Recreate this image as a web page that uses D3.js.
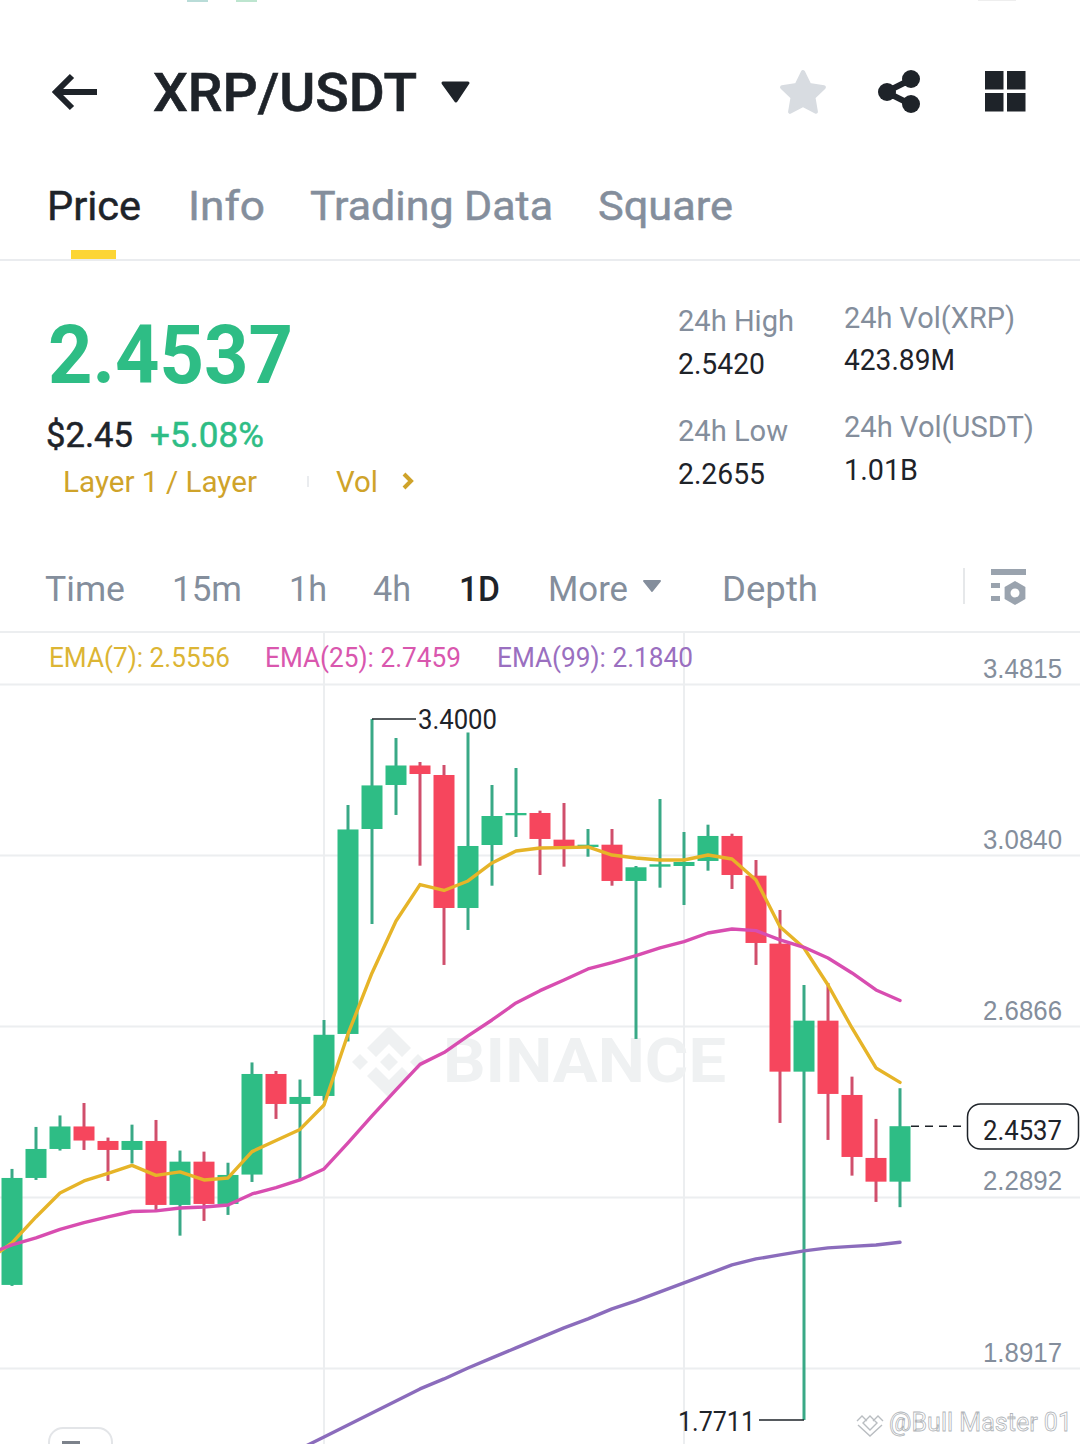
<!DOCTYPE html>
<html>
<head>
<meta charset="utf-8">
<title>XRP/USDT</title>
<script src="https://d3js.org/d3.v7.min.js"></script>
<style>
  html, body { margin: 0; padding: 0; background: #fff; overflow: hidden; }
  svg { display: block; font-family: Roboto, "Noto Sans", sans-serif; }
  .grid line { stroke: #eceef0; stroke-width: 2px; }
  .grid text { fill: #848e9c; font-size: 27px; text-anchor: end; }
</style>
</head>
<body>
<svg id="chart" width="1080" height="1444"></svg>
<script>
// daily candles
const opens = [2.0848,2.3334,2.4008,2.4531,2.4194,2.3985,2.4194,2.2707,2.3713,2.2730,2.3413,2.5751,2.5054,2.5240,2.6681,3.1445,3.2468,3.2921,3.2700,2.9609,3.1073,3.1764,3.1817,3.1197,3.1027,3.1080,3.0237,3.0569,3.0585,3.0702,3.1283,3.0360,2.8780,2.5805,2.6990,2.5263,2.3799,2.3248];
const highs = [2.3544,2.4520,2.4787,2.5077,2.4273,2.4573,2.4682,2.3971,2.3946,2.3688,2.6019,2.5821,2.5621,2.7006,3.2003,3.4000,3.3560,3.3002,3.2933,3.3688,3.2468,3.2863,3.1871,3.2049,3.1445,3.1445,3.0585,3.2142,3.1375,3.1545,3.1336,3.0725,2.9563,2.7820,2.7866,2.5689,2.4706,2.5420];
const lows = [2.0825,2.3288,2.3971,2.3985,2.3265,2.3671,2.2568,2.1993,2.2335,2.2475,2.3241,2.4706,2.3288,2.5131,2.6507,2.9237,3.1771,3.0592,2.8285,2.9098,3.0127,3.1259,3.0376,3.0569,3.0801,3.0127,2.6565,3.0081,2.9679,3.0476,3.0051,2.8285,2.4613,1.7711,2.4218,2.3388,2.2777,2.2655];
const closes = [2.3334,2.4008,2.4531,2.4204,2.3985,2.4194,2.2707,2.3713,2.2730,2.3404,2.5751,2.5054,2.5217,2.6662,3.1434,3.2458,3.2921,3.2723,2.9609,3.1050,3.1747,3.1817,3.1213,3.1034,3.1080,3.0237,3.0555,3.0625,3.0678,3.1283,3.0376,2.8796,2.5805,2.6990,2.5287,2.3822,2.3248,2.4537];

// moving averages, these start one candle left of the screen (index -1)
const ema7 = [2.1429,2.1824,2.2428,2.2986,2.3265,2.3439,2.3627,2.3395,2.3474,2.3288,2.3334,2.3946,2.4204,2.4462,2.5031,2.6681,2.8099,2.9307,3.0153,3.0016,3.0237,3.0655,3.0934,3.1004,3.1011,3.1027,3.0840,3.0771,3.0725,3.0725,3.0840,3.0748,3.0260,2.9175,2.8680,2.7820,2.6820,2.5891,2.5556];
const ema25 = [2.1568,2.1777,2.1940,2.2140,2.2296,2.2428,2.2554,2.2568,2.2637,2.2660,2.2707,2.2963,2.3111,2.3288,2.3544,2.4148,2.4775,2.5380,2.5974,2.6249,2.6635,2.7006,2.7401,2.7687,2.7936,2.8192,2.8338,2.8501,2.8680,2.8826,2.9028,2.9121,2.9082,2.8866,2.8696,2.8447,2.8099,2.7704,2.7459];
// the long one only comes on screen near the bottom, starts at index 12
const ema99 = [1.7036,1.7315,1.7594,1.7873,1.8152,1.8431,1.8663,1.8917,1.9151,1.9384,1.9616,1.9848,2.0058,2.0290,2.0476,2.0685,2.0894,2.1103,2.1313,2.1452,2.1545,2.1638,2.1708,2.1743,2.1777,2.1840];

const priceTicks = [3.4815, 3.0840, 2.6866, 2.2892, 1.8917];
const gridCandles = [13, 28];
const tabs = ["Price", "Info", "Trading Data", "Square"];
const intervals = ["Time", "15m", "1h", "4h", "1D", "More", "Depth"];

const lastPrice = 2.4537, topPrice = 3.4000, bottomPrice = 1.7711;

const DARK = "#1e2329", GREY = "#848e9c", GREEN = "#2ebd85", RED = "#f6465d", GOLD = "#cfa32a";
const WICK_GREEN = "#39a986", WICK_RED = "#d04f6c";

const svg = d3.select("#chart");

// set scales
const x = d3.scaleLinear().domain([0, 37]).range([12, 900]);
const y = d3.scaleLinear().domain([3.4815, 1.8917]).range([684, 1368]);

// text with a fixed width so it lands where the app put it
function label(parent, str, px, py, size, fill, weight, width) {
  let t = parent.append("text")
    .attr("x", px).attr("y", py)
    .attr("font-size", size).attr("fill", fill)
    .attr("font-weight", weight || 400)
    .text(str);
  if (width) t.attr("textLength", width).attr("lengthAdjust", "spacingAndGlyphs");
  return t;
}

/* ---------- page header ---------- */
const head = svg.append("g");

// scraps of the status bar cut off at the top
head.append("rect").attr("x", 187).attr("y", 0).attr("width", 21).attr("height", 2).attr("fill", "#b9dcd8");
head.append("rect").attr("x", 236).attr("y", 0).attr("width", 21).attr("height", 2).attr("fill", "#bde5cf");
head.append("rect").attr("x", 978).attr("y", 0).attr("width", 38).attr("height", 1).attr("fill", "#eeeeee");

// back arrow
head.append("path").attr("d", "M97 92H57M72 76L56 92L72 108")
  .attr("fill", "none").attr("stroke", DARK).attr("stroke-width", 6);

label(head, "XRP/USDT", 153, 111, 54, DARK, 500, 264).attr("stroke", DARK).attr("stroke-width", 0.6);
head.append("path").attr("d", "M443 83H468L456 101Z")
  .attr("fill", DARK).attr("stroke", DARK).attr("stroke-width", 3).attr("stroke-linejoin", "round");

// star
const star = d3.lineRadial().curve(d3.curveLinearClosed)
  .angle((d, i) => i * Math.PI / 5)
  .radius((d, i) => i % 2 ? 11 : 22);
head.append("path").attr("transform", "translate(803,94)")
  .attr("d", star(d3.range(10)))
  .attr("fill", "#d8dce1").attr("stroke", "#d8dce1").attr("stroke-width", 4).attr("stroke-linejoin", "round");

// share
head.append("path").attr("d", "M912 79L886 92L912 105")
  .attr("fill", "none").attr("stroke", DARK).attr("stroke-width", 6);
[[911, 79], [887, 92], [911, 104]].forEach(c => {
  head.append("circle").attr("cx", c[0]).attr("cy", c[1]).attr("r", 9).attr("fill", DARK);
});

// grid icon
[[985, 71], [1007, 71], [985, 93], [1007, 93]].forEach(c => {
  head.append("rect").attr("x", c[0]).attr("y", c[1]).attr("width", 18.5).attr("height", 18.5).attr("fill", DARK);
});

// tabs
label(head, tabs[0], 47, 220, 41, DARK, 400, 94).attr("stroke", DARK).attr("stroke-width", 0.5);
label(head, tabs[1], 188, 220, 41, GREY, 400, 77).attr("stroke", GREY).attr("stroke-width", 0.5);
label(head, tabs[2], 310, 220, 41, GREY, 400, 243).attr("stroke", GREY).attr("stroke-width", 0.5);
label(head, tabs[3], 598, 220, 41, GREY, 400, 135).attr("stroke", GREY).attr("stroke-width", 0.5);
head.append("rect").attr("x", 71).attr("y", 250).attr("width", 45).attr("height", 9).attr("fill", "#fcd535");
head.append("rect").attr("x", 0).attr("y", 259).attr("width", 1080).attr("height", 2).attr("fill", "#eaecef");

// price block
label(head, "2.4537", 48, 383, 82, GREEN, 700, 245);
label(head, "$2.45", 46, 447, 35, DARK, 400, 87).attr("stroke", DARK).attr("stroke-width", 0.5);
label(head, "+5.08%", 150, 447, 35, GREEN, 400, 114).attr("stroke", GREEN).attr("stroke-width", 0.5);
label(head, "Layer 1 / Layer", 63, 492, 29, GOLD, 400, 194);
head.append("rect").attr("x", 307).attr("y", 476).attr("width", 2).attr("height", 11).attr("fill", "#eaecef");
label(head, "Vol", 336, 492, 29, GOLD, 400, 42);
head.append("path").attr("d", "M404 474L411 481L404 488")
  .attr("fill", "none").attr("stroke", GOLD).attr("stroke-width", 4);

// 24h stats
label(head, "24h High", 678, 331, 29, GREY, 400, 116);
label(head, "2.5420", 678, 374, 29, DARK, 400, 87);
label(head, "24h Low", 678, 441, 29, GREY, 400, 110);
label(head, "2.2655", 678, 484, 29, DARK, 400, 87);
label(head, "24h Vol(XRP)", 844, 328, 29, GREY, 400, 171);
label(head, "423.89M", 844, 370, 29, DARK, 400, 111);
label(head, "24h Vol(USDT)", 844, 437, 29, GREY, 400, 190);
label(head, "1.01B", 844, 480, 29, DARK, 400, 74);

// interval row
label(head, intervals[0], 45, 601, 35, GREY, 400, 80);
label(head, intervals[1], 172, 601, 35, GREY, 400, 70);
label(head, intervals[2], 289, 601, 35, GREY, 400, 38);
label(head, intervals[3], 373, 601, 35, GREY, 400, 38);
label(head, intervals[4], 459, 601, 35, DARK, 500, 41);
label(head, intervals[5], 548, 601, 35, GREY, 400, 80);
head.append("path").attr("d", "M644 581H660L652 591Z")
  .attr("fill", GREY).attr("stroke", GREY).attr("stroke-width", 2).attr("stroke-linejoin", "round");
label(head, intervals[6], 722, 601, 35, GREY, 400, 96);
head.append("rect").attr("x", 963).attr("y", 568).attr("width", 2).attr("height", 36).attr("fill", "#e6e8ea");

// chart settings icon
const ICON = "#9aa3ae";
head.append("rect").attr("x", 991).attr("y", 569).attr("width", 35).attr("height", 6).attr("fill", ICON);
head.append("rect").attr("x", 991).attr("y", 583).attr("width", 9).attr("height", 5).attr("fill", ICON);
head.append("rect").attr("x", 991).attr("y", 596).attr("width", 9).attr("height", 5).attr("fill", ICON);
const hex = d3.lineRadial().curve(d3.curveLinearClosed)
  .angle((d, i) => i * Math.PI / 3).radius(12);
head.append("path").attr("transform", "translate(1015,593)").attr("d", hex(d3.range(6))).attr("fill", ICON);
head.append("circle").attr("cx", 1015).attr("cy", 593).attr("r", 4.5).attr("fill", "#fff");

/* ---------- chart ---------- */
svg.append("rect").attr("x", 0).attr("y", 631).attr("width", 1080).attr("height", 2).attr("fill", "#eceef0");

// vertical grid
svg.append("g").attr("class", "grid")
  .selectAll("line").data(gridCandles).enter().append("line")
  .attr("x1", d => x(d)).attr("x2", d => x(d))
  .attr("y1", 633).attr("y2", 1444);

// horizontal grid and price axis
const axis = svg.append("g").attr("class", "grid")
  .call(d3.axisRight(y).tickValues(priceTicks).tickSize(1080).tickFormat(d3.format(".4f")));
axis.select(".domain").remove();
axis.selectAll("text").attr("x", 983).attr("dy", 0).attr("y", -7)
  .style("text-anchor", "start")
  .attr("textLength", 79).attr("lengthAdjust", "spacingAndGlyphs");

// watermark
const mark = svg.append("g").attr("fill", "#eff1f2");
mark.append("path").attr("transform", "translate(389,1062)")
  .attr("d", "M0 -36L22 -14L13 -5L0 -18L-13 -5L-22 -14Z M0 36L22 14L13 5L0 18L-13 5L-22 14Z M0 -9L9 0L0 9L-9 0Z M-29 -8L-21 0L-29 8L-37 0Z M29 -8L37 0L29 8L21 0Z");
label(mark, "BINANCE", 443, 1082, 62, "#eff1f2", 700, 283);

// legend
label(svg, "EMA(7): 2.5556", 49, 667, 27, "#dcb534", 400, 181);
label(svg, "EMA(25): 2.7459", 265, 667, 27, "#d957ae", 400, 196);
label(svg, "EMA(99): 2.1840", 497, 667, 27, "#9a6fc0", 400, 196);

// candles
const candles = svg.append("g");
const idx = d3.range(opens.length);
const up = i => closes[i] >= opens[i];
candles.selectAll("line").data(idx).enter().append("line")
  .attr("x1", i => x(i)).attr("x2", i => x(i))
  .attr("y1", i => y(highs[i])).attr("y2", i => y(lows[i]))
  .attr("stroke", i => up(i) ? WICK_GREEN : WICK_RED)
  .attr("stroke-width", 3);
candles.selectAll("rect").data(idx).enter().append("rect")
  .attr("x", i => x(i) - 10.5)
  .attr("width", 21)
  .attr("y", i => y(Math.max(opens[i], closes[i])))
  .attr("height", i => Math.abs(y(opens[i]) - y(closes[i])))
  .attr("fill", i => up(i) ? GREEN : RED);

// moving averages
function drawEma(values, firstIndex, color) {
  const line = d3.line().x((d, i) => x(i + firstIndex)).y(d => y(d));
  svg.append("path").attr("d", line(values))
    .attr("fill", "none").attr("stroke", color).attr("stroke-width", 3.4)
    .attr("stroke-linejoin", "round").attr("stroke-linecap", "round");
}
drawEma(ema7, -1, "#e6b428");
drawEma(ema25, -1, "#d84db0");
drawEma(ema99, 12, "#8b6cbc");

// highest and lowest markers
svg.append("path")
  .attr("d", d3.line()([[x(15), y(topPrice)], [416, y(topPrice)]]))
  .attr("stroke", DARK).attr("stroke-width", 1.5);
label(svg, d3.format(".4f")(topPrice), 418, 729, 27, DARK, 400, 79);
svg.append("path")
  .attr("d", d3.line()([[759, y(bottomPrice)], [x(33), y(bottomPrice)]]))
  .attr("stroke", DARK).attr("stroke-width", 1.5);
label(svg, d3.format(".4f")(bottomPrice), 678, 1431, 27, DARK, 400, 77);

// last price tag
svg.append("path")
  .attr("d", d3.line()([[x(37) + 11, y(lastPrice)], [967, y(lastPrice)]]))
  .attr("stroke", DARK).attr("stroke-width", 1.5).attr("stroke-dasharray", "8 6");
svg.append("rect").attr("x", 967.5).attr("y", 1104)
  .attr("width", 111).attr("height", 45).attr("rx", 13)
  .attr("fill", "#fff").attr("stroke", DARK).attr("stroke-width", 1.5);
label(svg, d3.format(".4f")(lastPrice), 983, 1140, 27, DARK, 400, 79);

// cut off button, bottom left
svg.append("rect").attr("x", 49).attr("y", 1428).attr("width", 63).attr("height", 40).attr("rx", 14)
  .attr("fill", "#fff").attr("stroke", "#e3e5e8").attr("stroke-width", 2);
svg.append("rect").attr("x", 62).attr("y", 1441).attr("width", 18).attr("height", 3).attr("fill", "#7c828b");

// post watermark
const tag = svg.append("g").attr("fill", "none").attr("stroke", "#b9bdc1").attr("stroke-width", 1.4);
tag.append("path").attr("d", "M857 1421L862 1416L867 1421M873 1421L878 1416L883 1421M863 1423L870 1416L877 1423L870 1430ZM858 1425L870 1436L882 1425");
label(svg, "@Bull Master 01", 889, 1431, 26, "#fff", 400, 183)
  .attr("stroke", "#b0b4b8").attr("stroke-width", 0.8);
</script>
</body>
</html>
